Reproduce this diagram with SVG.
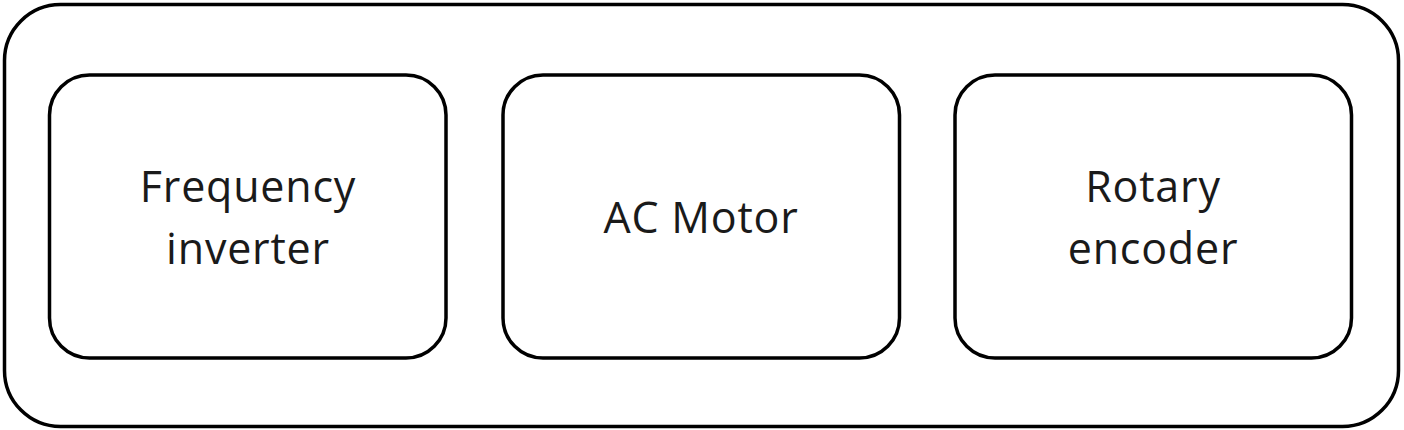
<svg xmlns="http://www.w3.org/2000/svg" width="1404" height="430" viewBox="0 0 1404 430">
<style>
.box{fill:#fff;stroke:#000;stroke-width:3.5}
.lbl{font-family:"Open Sans","Noto Sans",sans-serif;font-size:43px;letter-spacing:0.8px;fill:#1a1a1a;text-anchor:middle}
</style>
<rect width="1404" height="430" fill="#fff"/>
<g id="container"><rect class="box" x="4.5" y="4.5" width="1394" height="422" rx="56" ry="56"/></g>
<g id="frequency-inverter">
<rect class="box" x="49.5" y="75" width="396.5" height="283" rx="40" ry="40"/>
<text class="lbl" x="248" y="202">Frequency</text>
<text class="lbl" x="248" y="264">inverter</text>
</g>
<g id="ac-motor">
<rect class="box" x="503" y="75" width="396.5" height="283" rx="40" ry="40"/>
<text class="lbl" x="701" y="233">AC Motor</text>
</g>
<g id="rotary-encoder">
<rect class="box" x="955" y="75" width="396.5" height="283" rx="40" ry="40"/>
<text class="lbl" x="1153" y="202">Rotary</text>
<text class="lbl" x="1153" y="264">encoder</text>
</g>
<g id="connectors"></g>
</svg>
